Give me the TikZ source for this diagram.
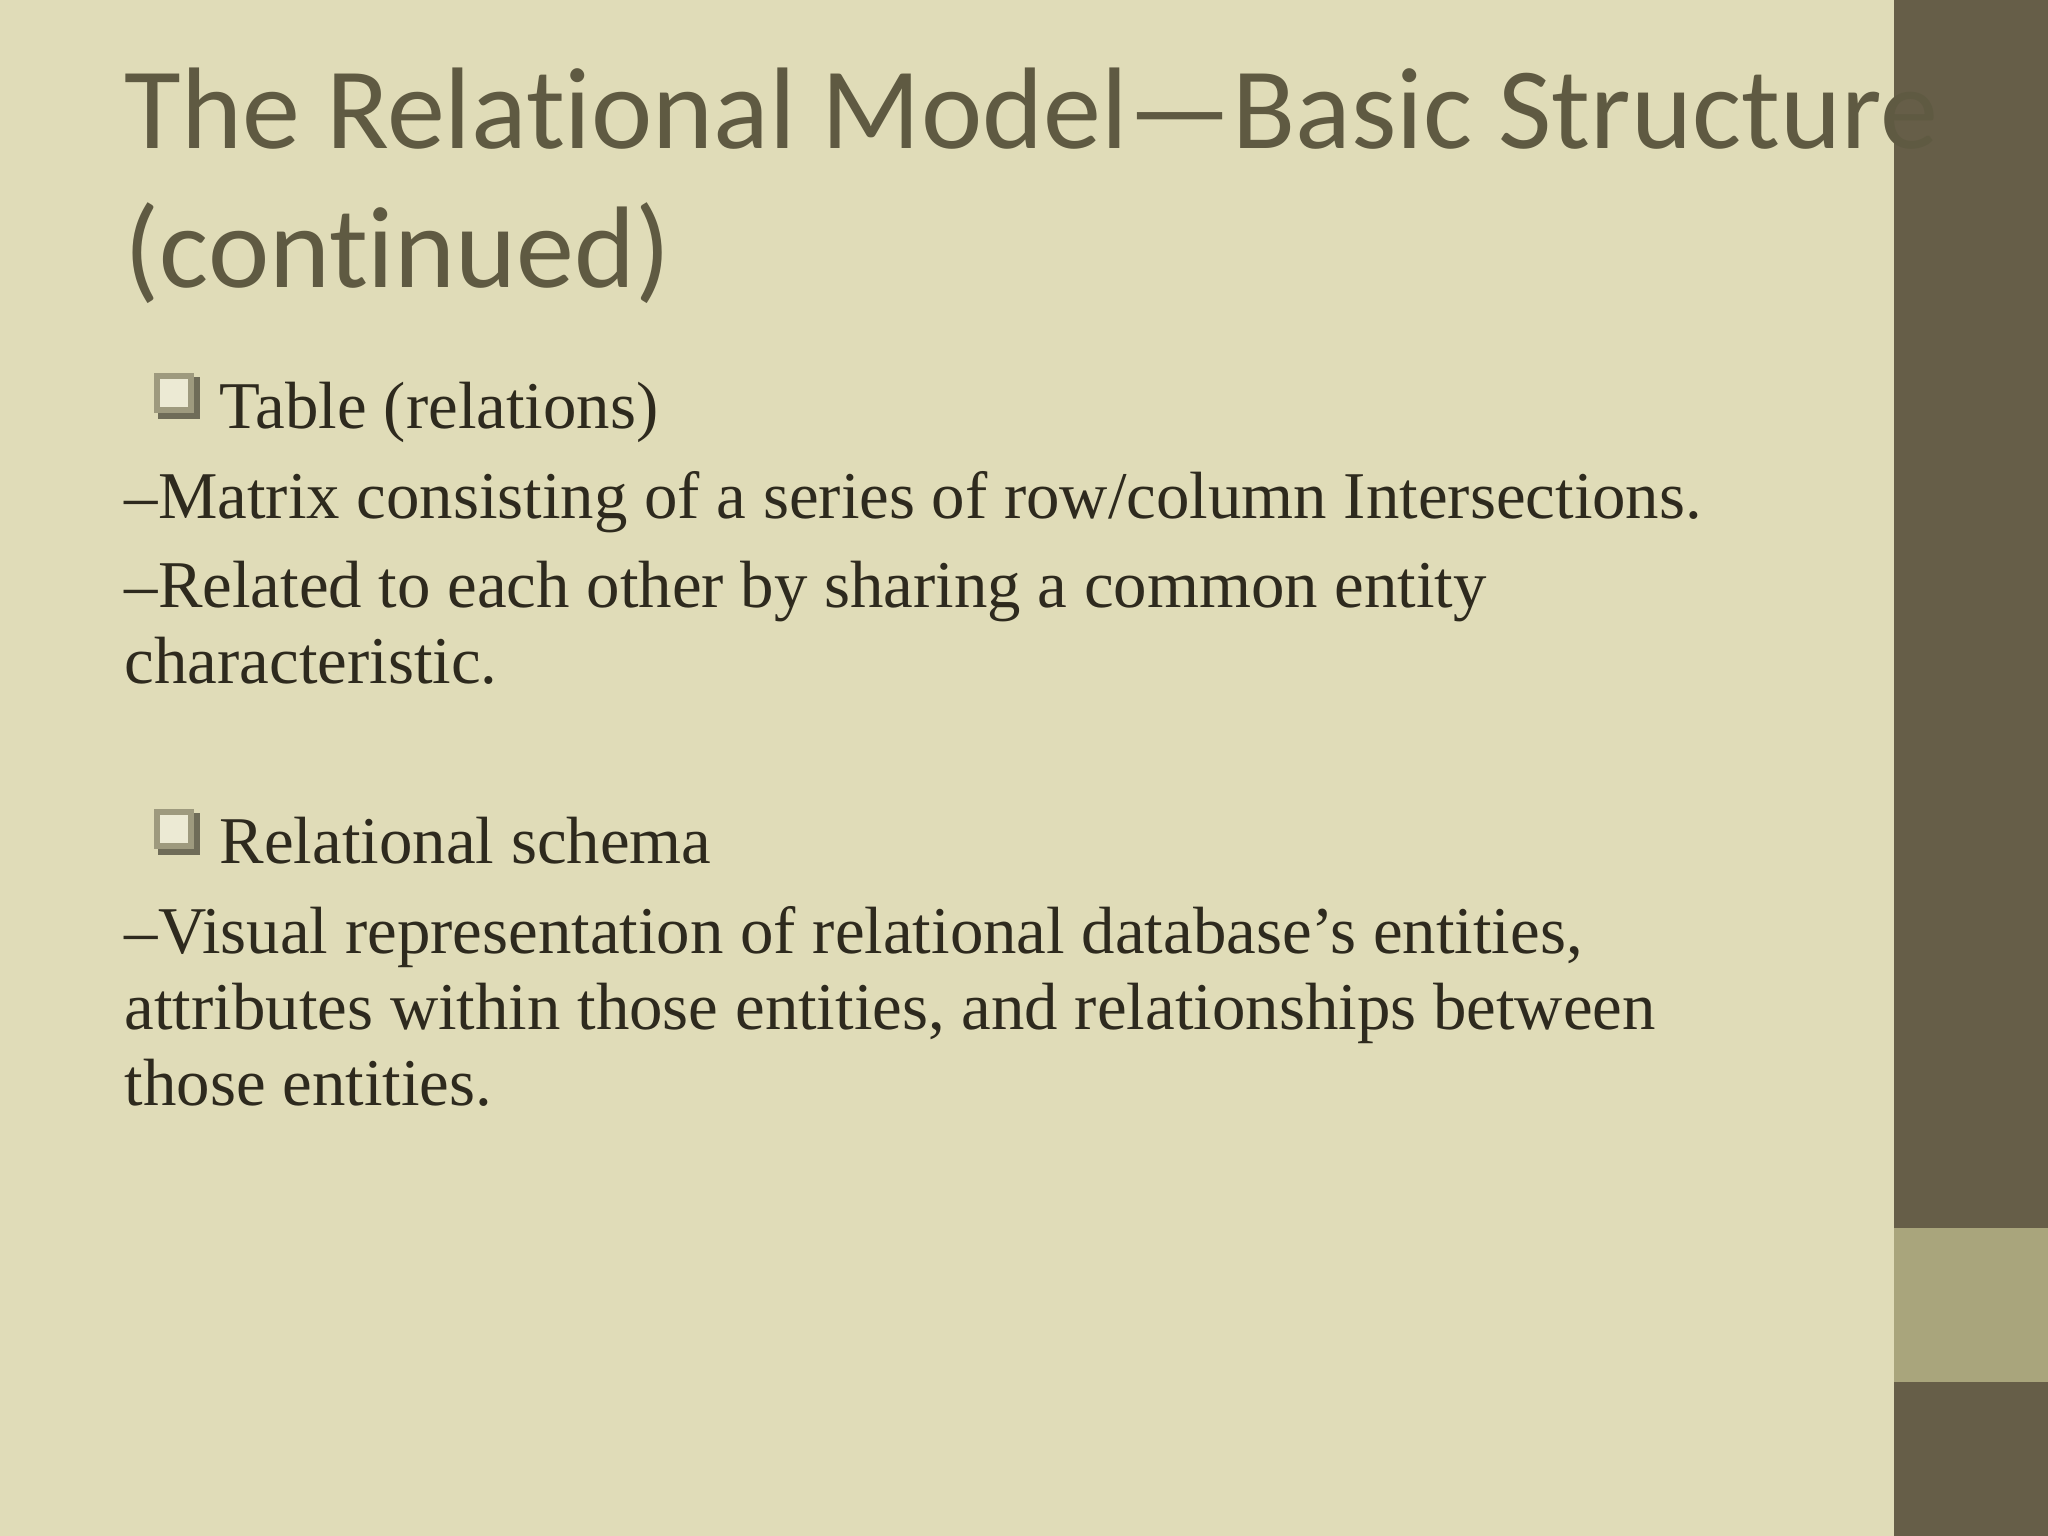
\documentclass[tikz,border=0pt]{standalone}
\usepackage{fontspec}
\setmainfont{Liberation Serif}
\newfontfamily\titlefont[Ligatures=NoCommon]{Carlito}
\definecolor{bg}{HTML}{E0DCB8}
\definecolor{dark}{HTML}{665E48}
\definecolor{light}{HTML}{A9A57C}
\definecolor{txt}{HTML}{2E2A1E}
\definecolor{ttl}{HTML}{5F5A42}
\definecolor{box}{HTML}{9E9A7E}
\begin{document}
\begin{tikzpicture}[x=0.01cm,y=-0.01cm,
  ttext/.style={anchor=base west,inner sep=0,text=ttl,font=\titlefont\fontsize{33}{33}\selectfont},
  btext/.style={anchor=base west,inner sep=0,text=txt,font=\fontsize{19}{19}\selectfont}]
\useasboundingbox (0,0) rectangle (2048,1536);
\fill[bg] (0,0) rectangle (2048,1536);
\fill[dark] (1894,0) rectangle (2048,1536);
\fill[light] (1894,1228) rectangle (2048,1382);
\node[ttext] (t1) at (124,148) {The Relational Model—Basic Structure};
\node[ttext] (t2) at (124,287) {(continued)};
\foreach \y/\n in {407/b1,843/b2}{
  \fill[box!70!black] (158,\y-30) rectangle (200,\y+12);
  \fill[box] (154,\y-34) rectangle (194,\y+6);
  \fill[bg!60!white] (160,\y-28) rectangle (188,\y);
}
\node[btext] (a) at (219,428) {Table (relations)};
\node[btext] (b) at (124,518) {–Matrix consisting of a series of row/column Intersections.};
\node[btext] (c) at (124,607) {–Related to each other by sharing a common entity};
\node[btext] (d) at (124,683) {characteristic.};
\node[btext] (e) at (219,863) {Relational schema};
\node[btext] (f) at (124,953) {–Visual representation of relational database’s entities,};
\node[btext] (g) at (124,1029) {attributes within those entities, and relationships between};
\node[btext] (h) at (124,1105) {those entities.};
\end{tikzpicture}
\end{document}
